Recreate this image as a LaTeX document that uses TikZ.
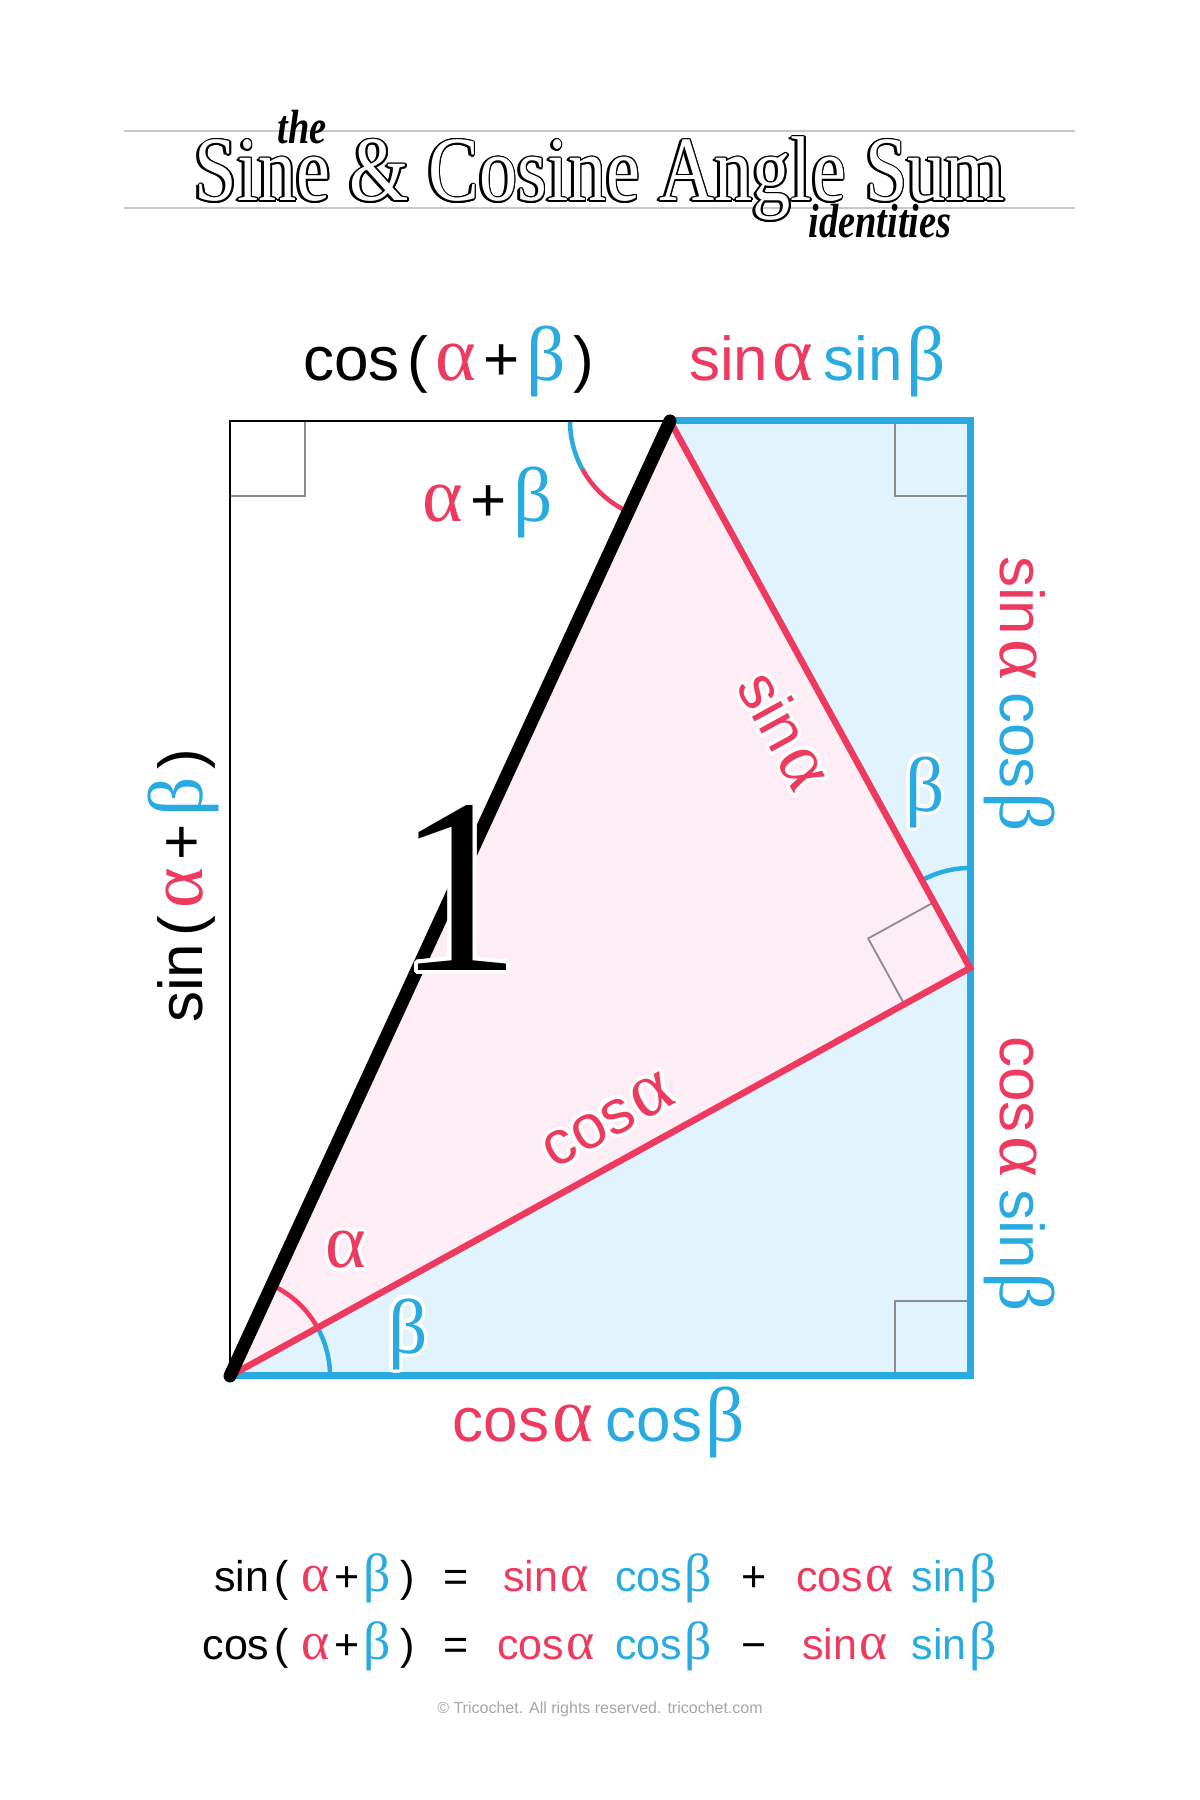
\documentclass[tikz,border=0pt]{standalone}
\usepackage{fontspec}
\usepackage{graphicx}
\setmainfont{Liberation Sans}
\newfontfamily\greekf[Scale=1.25]{Liberation Serif}
\newfontfamily\titlef{Liberation Serif}
\usetikzlibrary{calc}
\definecolor{cred}{HTML}{EE3A5F}
\definecolor{cblue}{HTML}{29ABE2}
\definecolor{pinkfill}{HTML}{FDEDF4}
\definecolor{bluefill}{HTML}{E1F3FC}
\definecolor{markgray}{HTML}{8C8C8C}
\definecolor{rulegray}{HTML}{C8C8C8}
\definecolor{copygray}{HTML}{A6A6A6}
\newcommand\rcol{cred}
\newcommand\bcol{cblue}
\newcommand\kcol{black}
\newcommand\R[1]{\textcolor{\rcol}{#1}}
\newcommand\B[1]{\textcolor{\bcol}{#1}}
\newcommand\K[1]{\textcolor{\kcol}{#1}}
\newcommand\al{{\greekf α}}
\newcommand\be{{\greekf β}}
\newcommand\gp{\hspace{0.12em}}
\newcommand\fg{\hspace{0.06em}}
\newcommand\eqlhs[1]{\K{#1\hspace{0.12em}(\hspace{0.3em}}\R{\al}\hspace{0.1em}\K{+}\hspace{0.1em}\B{\be}\hspace{0.22em}\K{)}}
\tikzset{
  lbl/.style={inner sep=0pt, font=\fontsize{62}{70}\selectfont},
  eq/.style={inner sep=0pt, font=\fontsize{43}{50}\selectfont},
  whiteout/.style={execute at begin node={\def\rcol{white}\def\bcol{white}\def\kcol{white}}, text=white},
  titlefont/.style={inner sep=0pt, anchor=base, font=\titlef\fontsize{92}{92}\selectfont},
  scriptfont/.style={inner sep=0pt, anchor=base, font=\titlef\bfseries\itshape\fontsize{48}{48}\selectfont},
  marksq/.style={draw=markgray, line width=1.8},
  arcline/.style={line width=4.5},
}
\newcommand\halonode[5]{%
  \foreach \hh in {0,22.5,...,337.5}{\node[#2, whiteout, shift={(\hh:#5)}] at #3 {#4};}
  \node[#2] (#1) at #3 {#4};
}
\newcommand\titletxt{\scalebox{0.83}[1]{Sine \& Cosine Angle Sum}}
\begin{document}
\begin{tikzpicture}[x=1pt,y=1pt]
\fill[white] (0,0) rectangle (1200,1800);
\useasboundingbox (0,0) rectangle (1200,1800);
% title
\draw[rulegray, line width=2] (124,1669) -- (1075,1669);
\draw[rulegray, line width=2] (124,1592) -- (1075,1592);
\node[titlefont, text=black] (titleshadow) at (597,1598) {\titletxt};
\foreach \hh in {0,30,...,330}{\node[titlefont, text=black, shift={(\hh:1.5)}] at (600,1599) {\titletxt};}
\node[titlefont, text=white] (title) at (600,1599) {\titletxt};
\node[scriptfont] (the) at (302,1656) {\scalebox{0.8}[1]{the}};
\node[scriptfont] (ident) at (880,1562) {\scalebox{0.8}[1]{identities}};
% geometry
\coordinate (O) at (230,424);
\coordinate (P) at (670,1379);
\coordinate (Q) at (970,832);
\coordinate (TL) at (230,1379);
\coordinate (R) at (970,1379);
\coordinate (B) at (970,424);
\fill[bluefill] (O) -- (B) -- (R) -- (P) -- cycle;
\fill[pinkfill] (O) -- (P) -- (Q) -- cycle;
% right angle marks
\draw[marksq] ($(TL)+(0,-75)$) -- ++(75,0) -- ++(0,75);
\draw[marksq] ($(R)+(0,-75)$) -- ++(-75,0) -- ++(0,75);
\draw[marksq] ($(B)+(0,75)$) -- ++(-75,0) -- ++(0,-75);
\draw[marksq] ($(Q)+(208.84:75)$) -- ++(118.84:75) -- ($(Q)+(118.84:75)$);
% angle arcs
\draw[cblue, arcline] ($(O)+(0:100)$) arc[start angle=0, end angle=28.84, radius=100];
\draw[cred, arcline] ($(O)+(28.84:100)$) arc[start angle=28.84, end angle=65.26, radius=100];
\draw[cblue, arcline] ($(P)+(180:100)$) arc[start angle=180, end angle=208.84, radius=100];
\draw[cred, arcline] ($(P)+(208.84:100)$) arc[start angle=208.84, end angle=245.26, radius=100];
\draw[cblue, arcline] ($(Q)+(90:100)$) arc[start angle=90, end angle=118.84, radius=100];
% sides
\draw[black, line width=2.8] (P) -- (TL) -- (O);
\draw[cblue, line width=7] (P) -- (R) -- (B) -- (O);
\draw[cred, line width=6.5] (P) -- (Q) -- (O);
\draw[black, line width=13, line cap=round] (O) -- (P);
% labels
\node[lbl, anchor=base west] (topcos) at (303,1419) {\K{cos\gp(\gp}\R{\al}\gp\K{+}\gp\B{\be}\gp\K{)}};
\node[lbl, anchor=base west] (topsin) at (689,1419) {\R{sin\fg\al}\hspace{0.18em}\B{sin\fg\be}};
\node[lbl, anchor=base west] (apb) at (422,1278) {\R{\al}\gp\K{+}\gp\B{\be}};
\node[lbl, rotate=90] (leftsin) at (183,914) {\K{sin\gp(\gp}\R{\al}\gp\K{+}\gp\B{\be}\gp\K{)}};
\node[lbl, rotate=-90] (rsc) at (1020,1106) {\R{sin\fg\al}\hspace{0.2em}\B{cos\fg\be}};
\node[lbl, rotate=-90] (rcs) at (1020,626) {\R{cos\fg\al}\hspace{0.2em}\B{sin\fg\be}};
\node[lbl, anchor=base] (botcc) at (599,358) {\R{cos\fg\al}\hspace{0.2em}\B{cos\fg\be}};
\halonode{one}{inner sep=0pt, font=\titlef\fontsize{250}{250}\selectfont}{(459,912)}{\K{1}}{4}
\halonode{sina}{lbl, rotate=-61.25}{(785,1070)}{\R{sin\fg\al}}{3.5}
\halonode{cosa}{lbl, rotate=28.84}{(608,680)}{\R{cos\fg\al}}{3.5}
\halonode{alO}{lbl}{(346,550)}{\R{\al}}{3.5}
\halonode{beO}{lbl}{(408,466)}{\B{\be}}{3.5}
\halonode{beQ}{lbl}{(925,1008)}{\B{\be}}{3.5}
% equations
\node[eq, anchor=base east] (l1a) at (415,208) {\eqlhs{sin}};
\node[eq, anchor=base] (l1e) at (456,208) {=};
\node[eq, anchor=base west] (l1b) at (503,208) {\R{sin\fg\al}};
\node[eq, anchor=base west] (l1c) at (615,208) {\B{cos\fg\be}};
\node[eq, anchor=base] (l1p) at (754,208) {+};
\node[eq, anchor=base west] (l1d) at (796,208) {\R{cos\fg\al}};
\node[eq, anchor=base east] (l1f) at (997,208) {\B{sin\fg\be}};
\node[eq, anchor=base east] (l2a) at (415,140) {\eqlhs{cos}};
\node[eq, anchor=base] (l2e) at (456,140) {=};
\node[eq, anchor=base west] (l2b) at (497,140) {\R{cos\fg\al}};
\node[eq, anchor=base west] (l2c) at (615,140) {\B{cos\fg\be}};
\node[eq, anchor=base] (l2m) at (754,140) {−};
\node[eq, anchor=base west] (l2d) at (802,140) {\R{sin\fg\al}};
\node[eq, anchor=base east] (l2f) at (997,140) {\B{sin\fg\be}};
\node[inner sep=0pt, font=\fontsize{16}{16}\selectfont, text=copygray] (copy) at (600,91) {© Tricochet. All rights reserved. tricochet.com};
\end{tikzpicture}
\end{document}
